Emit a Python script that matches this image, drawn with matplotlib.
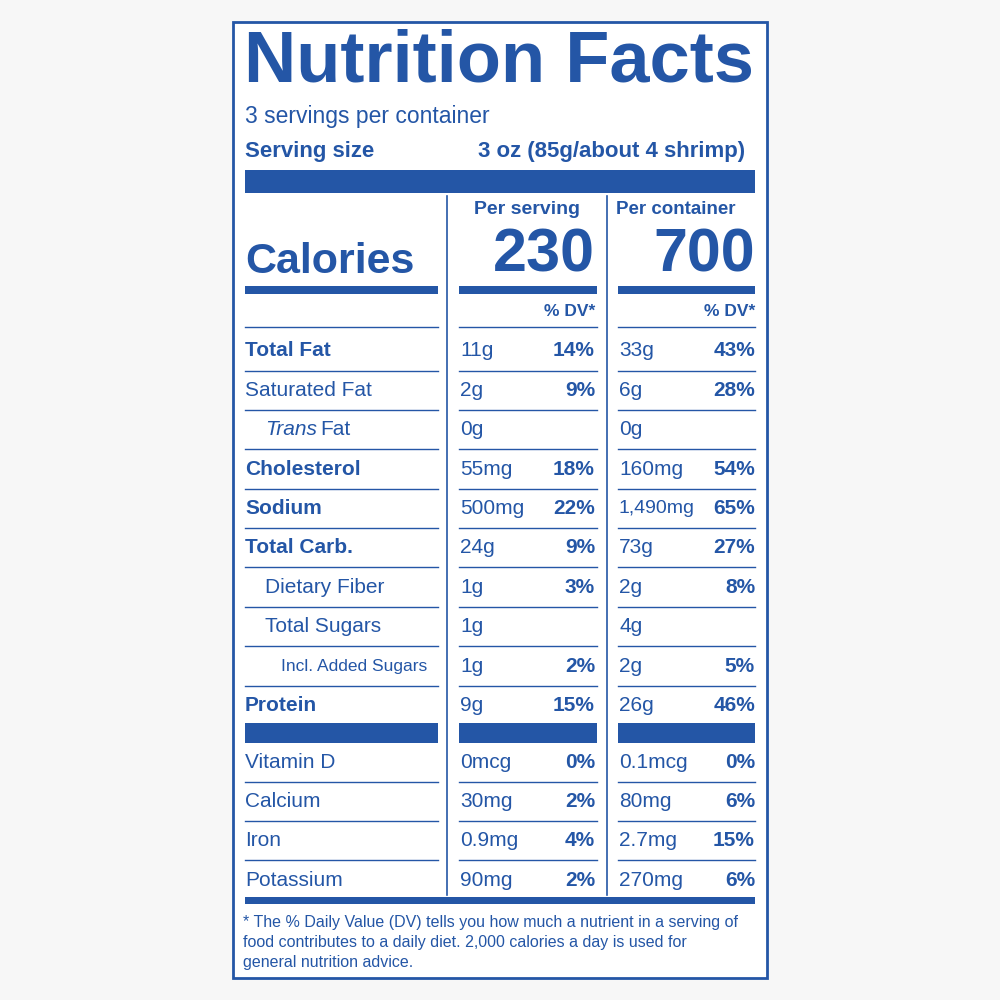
import matplotlib.pyplot as plt
from matplotlib.patches import Rectangle

BLUE = "#2456a6"
FONT = ["Liberation Sans", "DejaVu Sans"]

servings_text = "3 servings per container"
serving_size = "3 oz (85g/about 4 shrimp)"
cal_serving = "230"
cal_container = "700"

# name, indent, bold, amount/serving, %dv serving, amount/container, %dv container
nutrients = [
    ("Total Fat", 0, True, "11g", "14%", "33g", "43%"),
    ("Saturated Fat", 0, False, "2g", "9%", "6g", "28%"),
    ("Trans Fat", 1, False, "0g", "", "0g", ""),
    ("Cholesterol", 0, True, "55mg", "18%", "160mg", "54%"),
    ("Sodium", 0, True, "500mg", "22%", "1,490mg", "65%"),
    ("Total Carb.", 0, True, "24g", "9%", "73g", "27%"),
    ("Dietary Fiber", 1, False, "1g", "3%", "2g", "8%"),
    ("Total Sugars", 1, False, "1g", "", "4g", ""),
    ("Incl. Added Sugars", 2, False, "1g", "2%", "2g", "5%"),
    ("Protein", 0, True, "9g", "15%", "26g", "46%"),
]
vitamins = [
    ("Vitamin D", "0mcg", "0%", "0.1mcg", "0%"),
    ("Calcium", "30mg", "2%", "80mg", "6%"),
    ("Iron", "0.9mg", "4%", "2.7mg", "15%"),
    ("Potassium", "90mg", "2%", "270mg", "6%"),
]
footnote = ["* The % Daily Value (DV) tells you how much a nutrient in a serving of",
            "food contributes to a daily diet. 2,000 calories a day is used for",
            "general nutrition advice."]

fig = plt.figure(figsize=(10, 10), dpi=100)
fig.patch.set_facecolor("#f7f7f7")
ax = fig.add_axes([0, 0, 1, 1])
ax.set_xlim(0, 1000)
ax.set_ylim(1000, 0)
ax.axis("off")

ax.add_patch(Rectangle((233, 22), 534, 956, fc="white", ec=BLUE, lw=2))

def txt(x, y, s, size=15, bold=False, ha="left", style="normal"):
    ax.text(x, y, s, color=BLUE, fontsize=size, fontweight="bold" if bold else "normal",
            ha=ha, va="center", family=FONT, style=style)

def bar(x0, x1, y, h):
    ax.add_patch(Rectangle((x0, y - h / 2), x1 - x0, h, fc=BLUE, ec="none"))

cols = [(245, 438), (459, 597), (618, 755)]

txt(244, 62, "Nutrition Facts", 52, True)
txt(245, 117, servings_text, 16.5)
txt(245, 151, "Serving size", 16, True)
txt(745, 151, serving_size, 16, True, "right")
bar(245, 755, 181, 23)

for x in (447, 607):
    ax.plot([x, x], [196, 895], color=BLUE, lw=1.2)

txt(474, 210, "Per serving", 14, True)
txt(616, 210, "Per container", 13.5, True)
txt(595, 256, cal_serving, 44, True, "right")
txt(755, 256, cal_container, 44, True, "right")
txt(245, 262, "Calories", 31, True)
for a, b in cols:
    bar(a, b, 290, 8)
txt(595, 312, "% DV*", 12.5, True, "right")
txt(755, 312, "% DV*", 12.5, True, "right")

def sep(y):
    for a, b in cols:
        ax.plot([a, b], [y, y], color=BLUE, lw=1)

sep(327)
y = 351
for i, (name, ind, bold, a1, p1, a2, p2) in enumerate(nutrients):
    indent = [0, 20, 36][ind]
    size = 12.5 if ind == 2 else 15
    if name == "Trans Fat":
        txt(265, y, "Trans", size, style="italic")
        txt(320, y, "Fat", size)
    else:
        txt(245 + indent, y, name, size, bold)
    txt(460, y, a1, 15)
    txt(595, y, p1, 15, True, "right")
    txt(619, y, a2, 14 if len(a2) > 5 else 15)
    txt(755, y, p2, 15, True, "right")
    if i < len(nutrients) - 1:
        sep(y + 19.5)
    y += 39.4

for a, b in cols:
    bar(a, b, 733, 20)

y = 762
for i, (name, a1, p1, a2, p2) in enumerate(vitamins):
    txt(245, y, name, 15)
    txt(460, y, a1, 15)
    txt(595, y, p1, 15, True, "right")
    txt(619, y, a2, 15)
    txt(755, y, p2, 15, True, "right")
    if i < len(vitamins) - 1:
        sep(y + 19.5)
    y += 39.4

bar(245, 755, 900, 7)
for i, line in enumerate(footnote):
    txt(243, 922 + i * 20, line, 11.5)

fig.savefig("out.png", dpi=100, facecolor=fig.get_facecolor())
